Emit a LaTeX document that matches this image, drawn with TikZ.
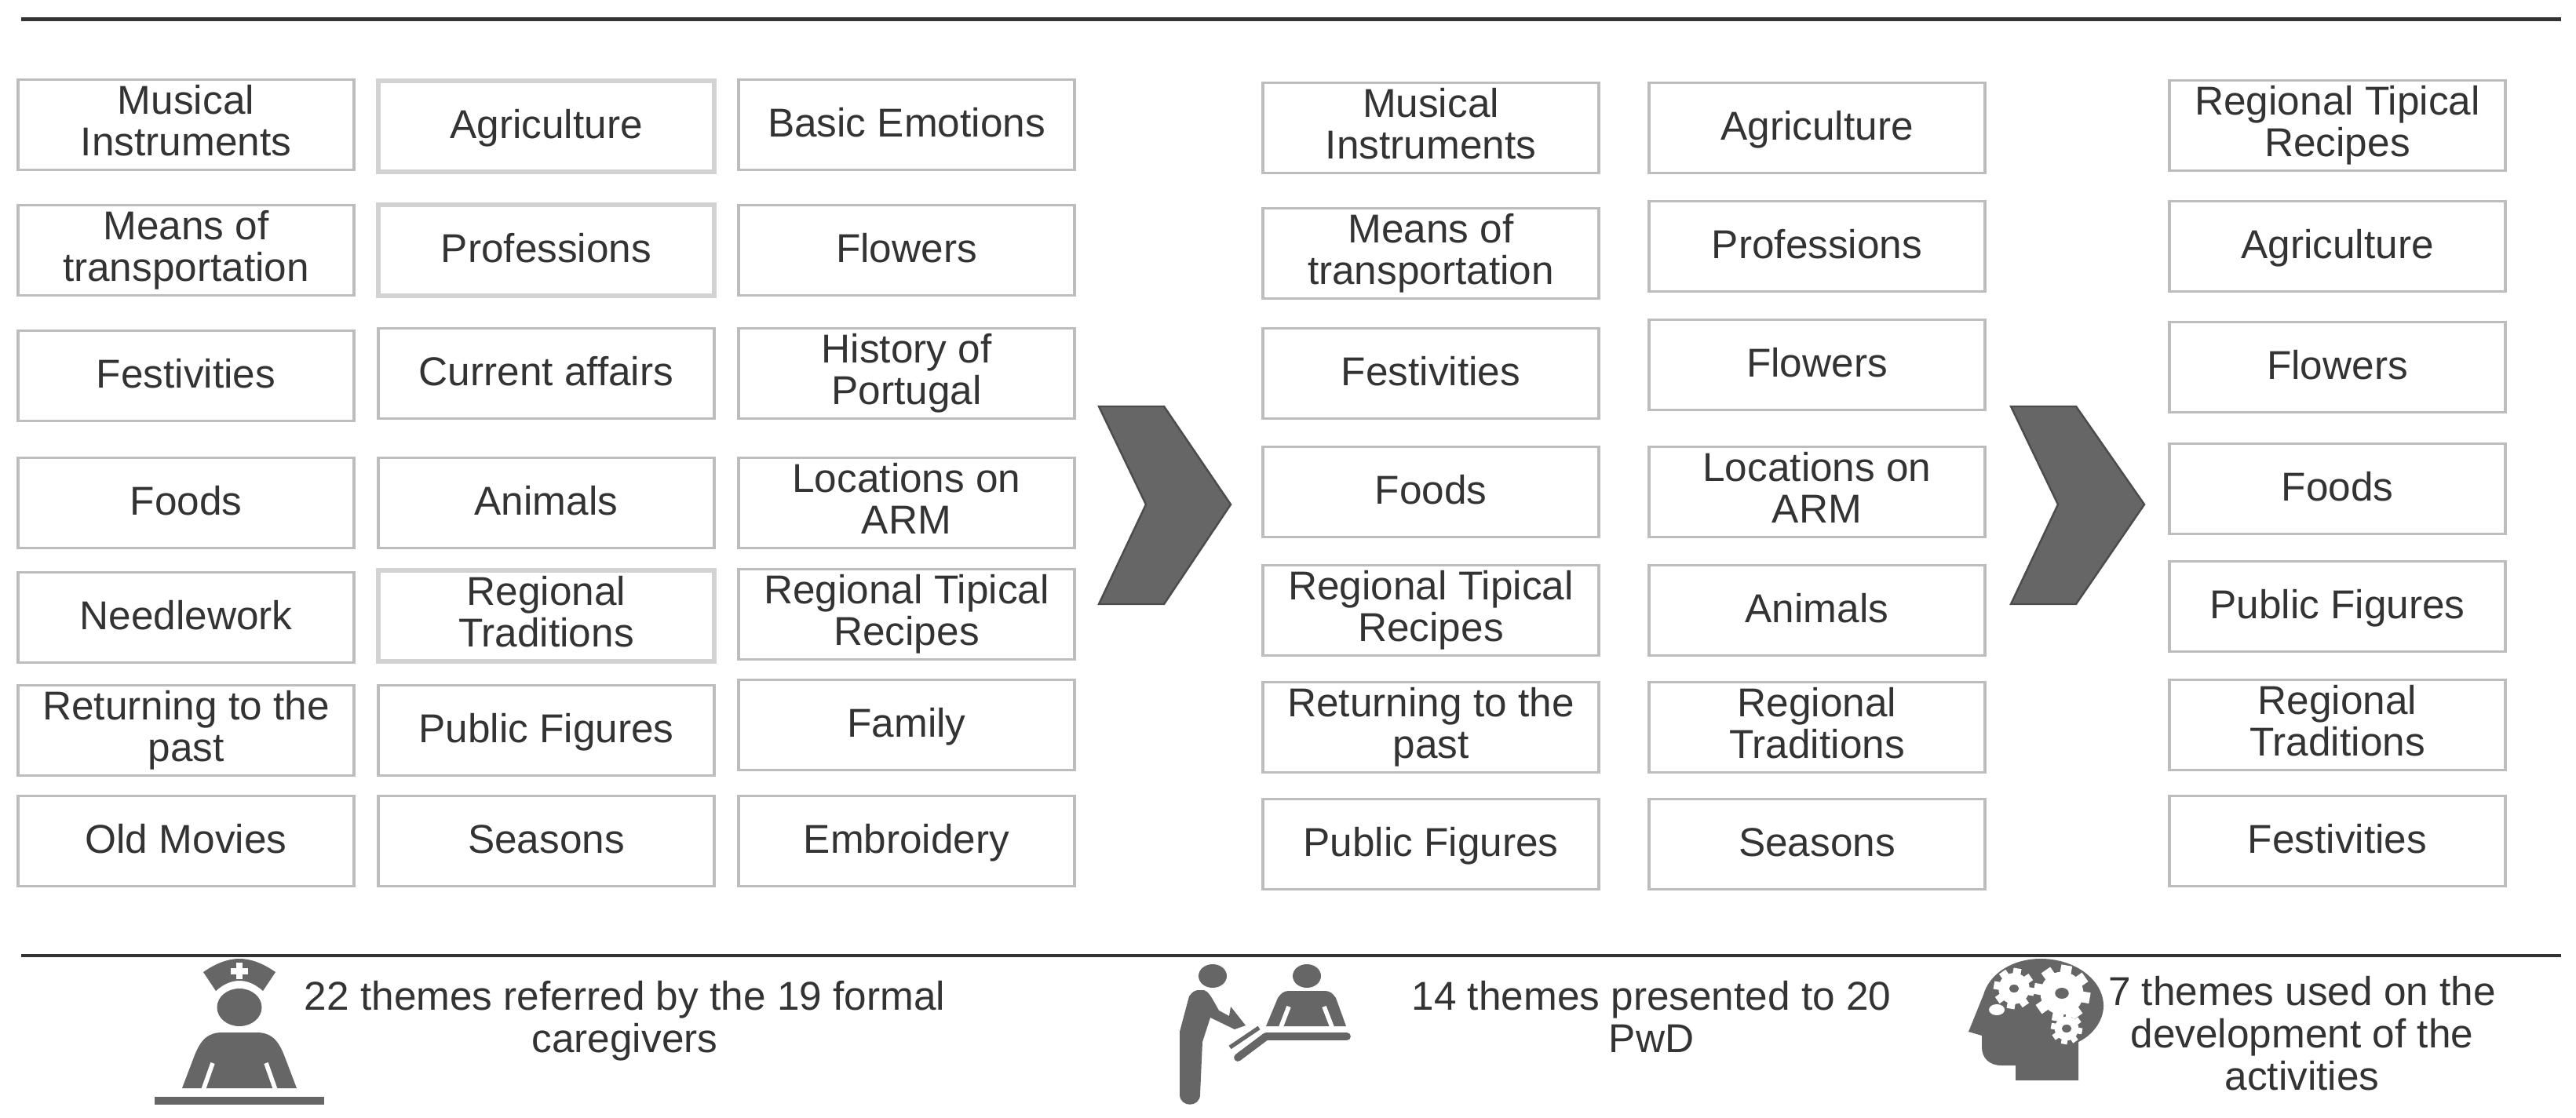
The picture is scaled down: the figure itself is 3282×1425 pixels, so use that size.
\documentclass[tikz,border=0pt]{standalone}
\usepackage{fontspec}
\setmainfont{Liberation Sans}
\definecolor{boxgray}{HTML}{BDBDBD}
\definecolor{boxlight}{HTML}{D2D2D2}
\definecolor{icongray}{HTML}{666666}
\definecolor{rulegray}{HTML}{333333}
\definecolor{textgray}{HTML}{333333}
\newcommand{\themestrut}{\rule[-3pt]{0pt}{15pt}}
\tikzset{
  theme/.style={draw=boxgray,line width=1.1pt,minimum width=4.28cm,minimum height=1.15cm,inner sep=0pt,align=center,text=textgray,font=\fontsize{14.6}{15.1}\selectfont,execute at begin node=\themestrut,execute at end node=\themestrut},
  themelt/.style={theme,draw=boxlight,line width=1.7pt},
  caption/.style={inner sep=0pt,align=center,text=textgray,font=\fontsize{14.6}{15.3}\selectfont,execute at begin node=\themestrut,execute at end node=\themestrut},
  chevron/.style={fill=icongray,draw=icongray!75!black,line width=0.7pt,line join=miter},
  topline/.style={rulegray,line width=1.4pt},
  icon/.style={fill=icongray,draw=none},
  slit/.style={draw=white,line width=1.6pt},
}
\newcommand{\gearicon}[4]{
  \fill[white] (#1,#2) circle (#3*0.76);
  \foreach \a in {0,45,...,315} \draw[white,line width=#3*0.11pt] (#1,#2) -- ++(\a+10:#3);
  \fill[icon] (#1,#2) ellipse (#4*1.25 and #4);
}
\begin{document}
\begin{tikzpicture}[x=0.01cm,y=-0.01cm]
    \useasboundingbox (0,0) rectangle (3282,1425);
    \draw[topline] (27,24.5) -- (3263,24.5);
    \draw[topline] (27,1218) -- (3263,1218);

    % first list
    \node[theme] (musicA) at (237,159) {Musical\\Instruments};
    \node[theme] (meansA) at (237,319) {Means of\\transportation};
    \node[theme] (festA) at (237,479) {Festivities};
    \node[theme] (foodA) at (237,641) {Foods};
    \node[theme] (needle) at (237,787) {Needlework};
    \node[theme] (pastA) at (237,931) {Returning to the\\past};
    \node[theme] (movies) at (237,1072) {Old Movies};

    \node[themelt] (agriA) at (696,161) {Agriculture};
    \node[themelt] (profA) at (696,319) {Professions};
    \node[theme] (affairs) at (696,476) {Current affairs};
    \node[theme] (animA) at (696,641) {Animals};
    \node[themelt] (tradA) at (696,785) {Regional\\Traditions};
    \node[theme] (figA) at (696,931) {Public Figures};
    \node[theme] (seasA) at (696,1072) {Seasons};

    \node[theme] (emotions) at (1155,159) {Basic Emotions};
    \node[theme] (flowA) at (1155,319) {Flowers};
    \node[theme] (history) at (1155,476) {History of\\Portugal};
    \node[theme] (armA) at (1155,641) {Locations on\\ARM};
    \node[theme] (recipeA) at (1155,783) {Regional Tipical\\Recipes};
    \node[theme] (family) at (1155,924) {Family};
    \node[theme] (embroid) at (1155,1072) {Embroidery};

    \draw[chevron] (1400,518) -- (1483,518) -- (1568,643) -- (1483,770) -- (1400,770) -- (1460,643) -- cycle;

    % second list
    \node[theme] (musicB) at (1823,163) {Musical\\Instruments};
    \node[theme] (meansB) at (1823,323) {Means of\\transportation};
    \node[theme] (festB) at (1823,476) {Festivities};
    \node[theme] (foodB) at (1823,627) {Foods};
    \node[theme] (recipeB) at (1823,778) {Regional Tipical\\Recipes};
    \node[theme] (pastB) at (1823,927) {Returning to the\\past};
    \node[theme] (figB) at (1823,1076) {Public Figures};

    \node[theme] (agriB) at (2315,163) {Agriculture};
    \node[theme] (profB) at (2315,314) {Professions};
    \node[theme] (flowB) at (2315,465) {Flowers};
    \node[theme] (armB) at (2315,627) {Locations on\\ARM};
    \node[theme] (animB) at (2315,778) {Animals};
    \node[theme] (tradB) at (2315,927) {Regional\\Traditions};
    \node[theme] (seasB) at (2315,1076) {Seasons};

    \draw[chevron] (2562,518) -- (2645,518) -- (2732,643) -- (2645,770) -- (2562,770) -- (2622,643) -- cycle;

    % final list
    \node[theme] (recipeC) at (2978,160) {Regional Tipical\\Recipes};
    \node[theme] (agriC) at (2978,314) {Agriculture};
    \node[theme] (flowC) at (2978,468) {Flowers};
    \node[theme] (foodC) at (2978,623) {Foods};
    \node[theme] (figC) at (2978,773) {Public Figures};
    \node[theme] (tradC) at (2978,924) {Regional\\Traditions};
    \node[theme] (festC) at (2978,1072) {Festivities};

    % captions
    \node[caption] (capA) at (796,1301.5) {22 themes referred by the 19 formal\\caregivers};
    \node[caption] (capB) at (2104,1301.5) {14 themes presented to 20\\PwD};
    \node[caption] (capC) at (2933,1322) {7 themes used on the\\development of the\\activities};

    % nurse
    \fill[icon] (259,1239) .. controls (275,1228) and (290,1222) .. (305,1222) .. controls (320,1222) and (335,1228) .. (351,1239)
       -- (335,1263) .. controls (325,1254) and (315,1250) .. (305,1250) .. controls (295,1250) and (285,1254) .. (275,1263) -- cycle;
    \draw[white,line width=2.4pt] (305,1227) -- (305,1248);
    \draw[white,line width=2.4pt] (294,1238) -- (316,1238);
    \fill[icon] (305,1284) ellipse (28.5 and 24);
    \fill[icon] (232,1387) -- (248,1345) .. controls (256,1325) and (265,1316) .. (283,1316) -- (327,1316)
       .. controls (345,1316) and (354,1325) .. (362,1345) -- (378,1387) -- cycle;
    \draw[slit] (271,1355) -- (259,1389);
    \draw[slit] (339,1355) -- (351,1389);
    \fill[icon] (197,1398) rectangle (413,1408);

    % nurse and patient at the table
    \fill[icon] (1545,1244) ellipse (18 and 15);
    \fill[icon] (1503,1395) -- (1503,1315) -- (1515,1270) .. controls (1519,1264) and (1523,1262) .. (1527,1262) -- (1534,1262)
       .. controls (1540,1264) and (1543,1270) .. (1553,1288) -- (1566,1295) -- (1568,1283) -- (1587,1307) -- (1573,1312) -- (1542,1297)
       -- (1532,1328) -- (1529,1395) .. controls (1529,1412) and (1503,1412) .. (1503,1395) -- cycle;
    \draw[icongray,line width=1.5pt] (1567,1335) -- (1604,1310);
    \draw[icongray,line width=2.8pt,line cap=round,line join=round] (1577,1348) -- (1613,1321) -- (1716,1321);
    \fill[icon] (1665,1244) ellipse (18 and 15);
    \fill[icon] (1613,1308) -- (1628,1272) .. controls (1632,1266) and (1636,1263) .. (1642,1263) -- (1688,1263)
       .. controls (1694,1263) and (1698,1266) .. (1702,1272) -- (1715,1308) -- cycle;
    \draw[slit] (1642,1283) -- (1632,1309);
    \draw[slit] (1687,1283) -- (1697,1309);

    % head with gears
    \fill[icon] (2648,1377) -- (2568,1377) -- (2568,1358) -- (2550,1358) .. controls (2534,1358) and (2525,1348) .. (2525,1335)
       -- (2525,1320) -- (2508,1315) -- (2527,1268) .. controls (2535,1240) and (2565,1222) .. (2600,1222)
       .. controls (2645,1222) and (2680,1250) .. (2680,1282) .. controls (2680,1302) and (2665,1320) .. (2648,1328) -- cycle;
    \gearicon{2627}{1266}{36}{7}
    \gearicon{2566}{1260}{26}{5}
    \gearicon{2633}{1311}{20}{5}
    \fill[white] (2544,1287) ellipse (10 and 7);
\end{tikzpicture}
\end{document}
